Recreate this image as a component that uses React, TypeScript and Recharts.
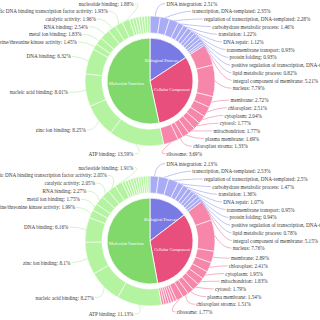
import React from 'react';
import { PieChart, Pie, Cell } from 'recharts';

const categories = ['Biological Process', 'Cellular Component', 'Molecular Function'];

const bpTerms = [
  'DNA integration',
  'transcription, DNA-templated',
  'regulation of transcription, DNA-templated',
  'carbohydrate metabolic process',
  'translation',
  'DNA repair',
  'transmembrane transport',
  'protein folding',
  'positive regulation of transcription, DNA-templated',
  'lipid metabolic process',
];

// upper panel
const bpValuesA = [2.51, 2.35, 2.28, 1.46, 1.22, 1.12, 0.93, 0.93, 0.87, 0.82];
const bpMinorA = [0.6, 0.5];
const ccTermsA = ['integral component of membrane', 'nucleus', 'membrane', 'chloroplast', 'cytoplasm', 'cytosol', 'mitochondrion', 'plasma membrane', 'chloroplast stroma', 'ribosome'];
const ccValuesA = [5.21, 7.79, 2.72, 2.51, 2.04, 1.77, 1.77, 1.69, 1.33, 3.69];
const ccMinorA: number[] = [];
const mfTermsA = ['ATP binding', 'zinc ion binding', 'nucleic acid binding', 'DNA binding', 'protein serine/threonine kinase activity', 'metal ion binding', 'RNA binding', 'catalytic activity', 'sequence-specific DNA binding transcription factor activity', 'nucleotide binding'];
const mfValuesA = [13.59, 8.25, 8.01, 6.32, 1.45, 1.83, 2.54, 1.96, 1.93, 1.88];
const mfMinorA = [0.8, 0.78, 0.75, 0.72, 0.7, 0.68, 0.65];

// lower panel
const bpValuesB = [2.13, 2.53, 2.5, 1.47, 1.36, 1.07, 0.95, 0.94, 0.85, 0.78];
const bpMinorB: number[] = [];
const ccTermsB = ['integral component of membrane', 'nucleus', 'membrane', 'chloroplast', 'cytoplasm', 'mitochondrion', 'cytosol', 'plasma membrane', 'chloroplast stroma', 'ribosome'];
const ccValuesB = [5.15, 7.76, 2.89, 2.41, 1.95, 1.83, 1.79, 1.54, 1.51, 1.77];
const ccMinorB = [0.7, 0.68, 0.65, 0.62, 0.6, 0.6];
const mfTermsB = ['ATP binding', 'nucleic acid binding', 'zinc ion binding', 'DNA binding', 'protein serine/threonine kinase activity', 'metal ion binding', 'RNA binding', 'catalytic activity', 'sequence-specific DNA binding transcription factor activity', 'nucleotide binding'];
const mfValuesB = [11.13, 8.27, 8.1, 6.16, 1.99, 1.75, 2.27, 2.05, 2.05, 1.91];
const mfMinorB = [0.74, 0.72, 0.7, 0.68, 0.66, 0.64, 0.62, 0.6, 0.58, 0.56, 0.55];

const CORE_COLORS = ['#7a7ae4', '#e84f7c', '#80d96a'];
const RING_COLORS = ['#a9acf5', '#f687ab', '#b4f4a0'];
const LINE_COLORS = ['#9a9ff0', '#f07fa3', '#b4ee9e'];

const CX = 150;
const CY = 81;
const R_CORE = 43;
const R_RING_IN = 48;
const R_RING_OUT = 65;
const ANCHOR_R = 80;
const ELLIPSE_RX = 73;
const TAIL = 10;
const ROW = 7.7;
const Y_MIN = 3.5;
const Y_MAX = 154;
const RAD = Math.PI / 180;
const FONT = '"Liberation Serif", "Times New Roman", serif';

type Slice = { name: string; value: number; group: number };
type Placed = { x: number; y: number; side: number };
type Group = [string[], number[], number[]];

function buildRing(groups: Group[]): Slice[] {
  const out: Slice[] = [];
  groups.forEach(([terms, values, minor], g) => {
    terms.forEach((t, i) => out.push({ name: t, value: values[i], group: g }));
    minor.forEach((v) => out.push({ name: '', value: v, group: g }));
  });
  return out;
}

// stack the outside labels on each side so they don't overlap, then bend x onto an ellipse
function placeLabels(slices: Slice[]): Record<number, Placed> {
  const total = slices.reduce((s, d) => s + d.value, 0);
  let acc = 0;
  const items: { i: number; side: number; y: number }[] = [];
  slices.forEach((d, i) => {
    const theta = ((acc + d.value / 2) / total) * 2 * Math.PI;
    acc += d.value;
    if (!d.name) return;
    items.push({ i, side: theta < Math.PI ? 1 : -1, y: CY - ANCHOR_R * Math.cos(theta) });
  });
  const out: Record<number, Placed> = {};
  [1, -1].forEach((side) => {
    const list = items.filter((it) => it.side === side).sort((a, b) => a.y - b.y);
    const ys = list.map((it) => Math.min(Y_MAX, Math.max(Y_MIN, it.y)));
    for (let k = ys.length - 2; k >= 0; k--) ys[k] = Math.min(ys[k], ys[k + 1] - ROW);
    for (let k = 0; k < ys.length; k++) ys[k] = Math.max(ys[k], k === 0 ? Y_MIN : ys[k - 1] + ROW);
    const ryTop = Math.max(ELLIPSE_RX, ...ys.filter((y) => y < CY).map((y) => CY - y + 0.3));
    const ryBot = Math.max(ELLIPSE_RX, ...ys.filter((y) => y >= CY).map((y) => y - CY + 0.3));
    list.forEach((it, k) => {
      const dy = ys[k] - CY;
      const ry = dy < 0 ? ryTop : ryBot;
      const dx = ELLIPSE_RX * Math.sqrt(Math.max(0, 1 - (dy * dy) / (ry * ry)));
      out[it.i] = { x: dx, y: ys[k], side };
    });
  });
  return out;
}

const renderCategory = (props: any) => {
  const r = props.outerRadius * 0.55;
  const x = props.cx + r * Math.cos(-props.midAngle * RAD);
  const y = props.cy + r * Math.sin(-props.midAngle * RAD);
  return (
    <text key={`c-${props.index}`} x={x} y={y} fill="#fff" fontSize={4.4} fontFamily={FONT} textAnchor="middle" dominantBaseline="central">
      {categories[props.index]}
    </text>
  );
};

const termLabel = (slices: Slice[], placed: Record<number, Placed>) => (props: any) => {
  const p = placed[props.index];
  if (!p) return null;
  const d = slices[props.index];
  const x0 = props.cx + props.outerRadius * Math.cos(-props.midAngle * RAD);
  const y0 = props.cy + props.outerRadius * Math.sin(-props.midAngle * RAD);
  const ex = props.cx + p.side * p.x;
  const tx = props.cx + p.side * (p.x + TAIL);
  return (
    <g key={`t-${props.index}`}>
      <path d={`M${x0},${y0} Q${ex},${p.y} ${tx - p.side * 1.2},${p.y}`} fill="none" stroke={LINE_COLORS[d.group]} strokeWidth={0.6} />
      <text x={tx} y={p.y} fill="#3a3a3a" fontSize={5.2} fontFamily={FONT} textAnchor={p.side > 0 ? 'start' : 'end'} dominantBaseline="central">
        {`${d.name}: ${d.value}%`}
      </text>
    </g>
  );
};

function GoPanel({ groups }: { groups: Group[] }) {
  const slices = buildRing(groups);
  const core = categories.map((c, g) => ({
    name: c,
    value: slices.filter((s) => s.group === g).reduce((s, d) => s + d.value, 0),
  }));
  const placed = placeLabels(slices);
  return (
    <PieChart width={320} height={160} margin={{ top: 0, right: 0, bottom: 0, left: 0 }}>
      <Pie data={core} dataKey="value" nameKey="name" cx={CX} cy={CY} outerRadius={R_CORE} startAngle={90} endAngle={-270}
        stroke="#fff" strokeWidth={0.8} label={renderCategory} labelLine={false} isAnimationActive={false}>
        {core.map((_, g) => <Cell key={g} fill={CORE_COLORS[g]} />)}
      </Pie>
      <Pie data={slices} dataKey="value" nameKey="name" cx={CX} cy={CY} innerRadius={R_RING_IN} outerRadius={R_RING_OUT}
        startAngle={90} endAngle={-270} stroke="#fff" strokeWidth={0.6} label={termLabel(slices, placed)} labelLine={false}
        isAnimationActive={false}>
        {slices.map((s, i) => <Cell key={i} fill={RING_COLORS[s.group]} />)}
      </Pie>
    </PieChart>
  );
}

export default function App() {
  return (
    <div style={{ width: 320, height: 320, background: '#fff' }}>
      <style>{'body{margin:0}'}</style>
      <GoPanel groups={[[bpTerms, bpValuesA, bpMinorA], [ccTermsA, ccValuesA, ccMinorA], [mfTermsA, mfValuesA, mfMinorA]]} />
      <GoPanel groups={[[bpTerms, bpValuesB, bpMinorB], [ccTermsB, ccValuesB, ccMinorB], [mfTermsB, mfValuesB, mfMinorB]]} />
    </div>
  );
}
